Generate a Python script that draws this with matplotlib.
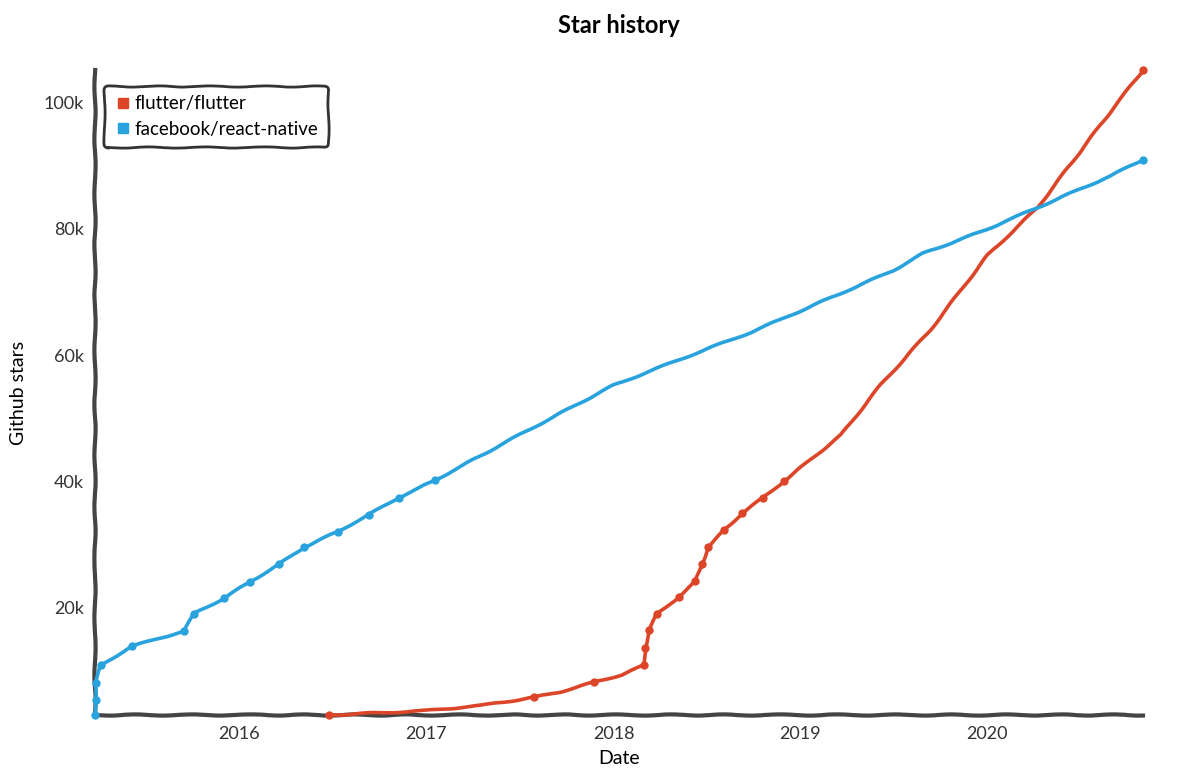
import numpy as np
import pandas as pd
import matplotlib
matplotlib.use('Agg')
import matplotlib.pyplot as plt
import matplotlib.dates as mdates
from matplotlib.lines import Line2D
from matplotlib.ticker import FuncFormatter

# star counts
flutter_dates = ['2016-06-24', '2016-11-13', '2017-01-01', '2017-04-17', '2017-07-30',
                 '2017-09-20', '2017-11-24', '2018-01-18', '2018-03-02', '2018-03-04',
                 '2018-03-12', '2018-03-27', '2018-05-08', '2018-06-10', '2018-06-23',
                 '2018-07-05', '2018-08-05', '2018-09-09', '2018-10-19', '2018-11-30',
                 '2019-03-21', '2019-06-06', '2019-09-11', '2020-01-01', '2020-04-08',
                 '2020-07-06', '2020-09-03', '2020-10-31']
flutter_stars = [2900, 3400, 3600, 4400, 5700,
                 6600, 8100, 9300, 10800, 13500,
                 16400, 18900, 21600, 24100, 26900,
                 29500, 32200, 34900, 37300, 40000,
                 47300, 55200, 63900, 75800, 83400,
                 92900, 99200, 105200]
flutter_marked = [0, 4, 6, 8, 9, 10, 11, 12, 13, 14, 15, 16, 17, 18, 19, 27]

rn_dates = ['2015-03-26', '2015-03-27', '2015-03-28', '2015-04-06', '2015-06-06',
            '2015-09-15', '2015-10-06', '2015-12-02', '2016-01-22', '2016-03-19',
            '2016-05-07', '2016-07-12', '2016-09-11', '2016-11-08', '2017-01-17',
            '2017-07-05', '2018-01-01', '2018-06-21', '2018-09-26', '2019-01-01',
            '2019-07-01', '2019-08-28', '2019-12-24', '2020-04-08', '2020-08-28',
            '2020-10-31']
rn_stars = [2900, 5300, 8000, 10800, 13800,
            16200, 19000, 21400, 24000, 26800,
            29500, 32000, 34700, 37400, 40100,
            47500, 55200, 60600, 63600, 67000,
            73400, 76100, 79700, 83400, 88400,
            91000]
rn_marked = list(range(15)) + [25]

series_names = ['flutter/flutter', 'facebook/react-native']
series_colors = ['#dd4528', '#28a3dd']

flutter_x = pd.to_datetime(flutter_dates)
rn_x = pd.to_datetime(rn_dates)

with plt.xkcd(scale=0.6, length=60, randomness=2):
    plt.rcParams['font.family'] = ['Lato', 'DejaVu Sans']
    plt.rcParams['path.effects'] = []
    fig = plt.figure(figsize=(11.79, 7.70), dpi=100)
    ax = fig.add_axes([0.0806, 0.0714, 0.889, 0.8376])

    ax.plot(flutter_x, flutter_stars, color=series_colors[0], lw=2.6,
            marker='o', ms=5, markevery=flutter_marked, clip_on=False, zorder=3)
    ax.plot(rn_x, rn_stars, color=series_colors[1], lw=2.6,
            marker='o', ms=5, markevery=rn_marked, clip_on=False, zorder=3)

    ax.set_xlim(rn_x.min(), rn_x.max())
    ax.set_ylim(min(rn_stars + flutter_stars), max(rn_stars + flutter_stars))

    ax.xaxis.set_major_locator(mdates.YearLocator())
    ax.xaxis.set_major_formatter(mdates.DateFormatter('%Y'))
    ax.set_yticks([20000, 40000, 60000, 80000, 100000])
    ax.yaxis.set_major_formatter(FuncFormatter(lambda v, p: '%dk' % (v / 1000)))
    ax.tick_params(length=0, labelsize=13, colors='#333333', pad=8)

    for s in ['top', 'right']:
        ax.spines[s].set_visible(False)
    for s in ['left', 'bottom']:
        ax.spines[s].set_color('#444444')
        ax.spines[s].set_linewidth(3)

    ax.set_title('Star history', fontsize=17, fontweight='bold', pad=27)
    ax.set_xlabel('Date', fontsize=14, labelpad=6)
    ax.set_ylabel('Github stars', fontsize=14, labelpad=12)

    handles = [Line2D([], [], linestyle='none', marker='s', ms=7, color=c) for c in series_colors]
    leg = ax.legend(handles, series_names, loc='upper left', fontsize=13.5,
                    bbox_to_anchor=(0.0, 0.99), handletextpad=0.1, handlelength=1,
                    borderpad=0.5, labelspacing=0.45, fancybox=True)
    leg.get_frame().set_edgecolor('black')
    leg.get_frame().set_linewidth(2)

    fig.savefig('out.png', dpi=100)
